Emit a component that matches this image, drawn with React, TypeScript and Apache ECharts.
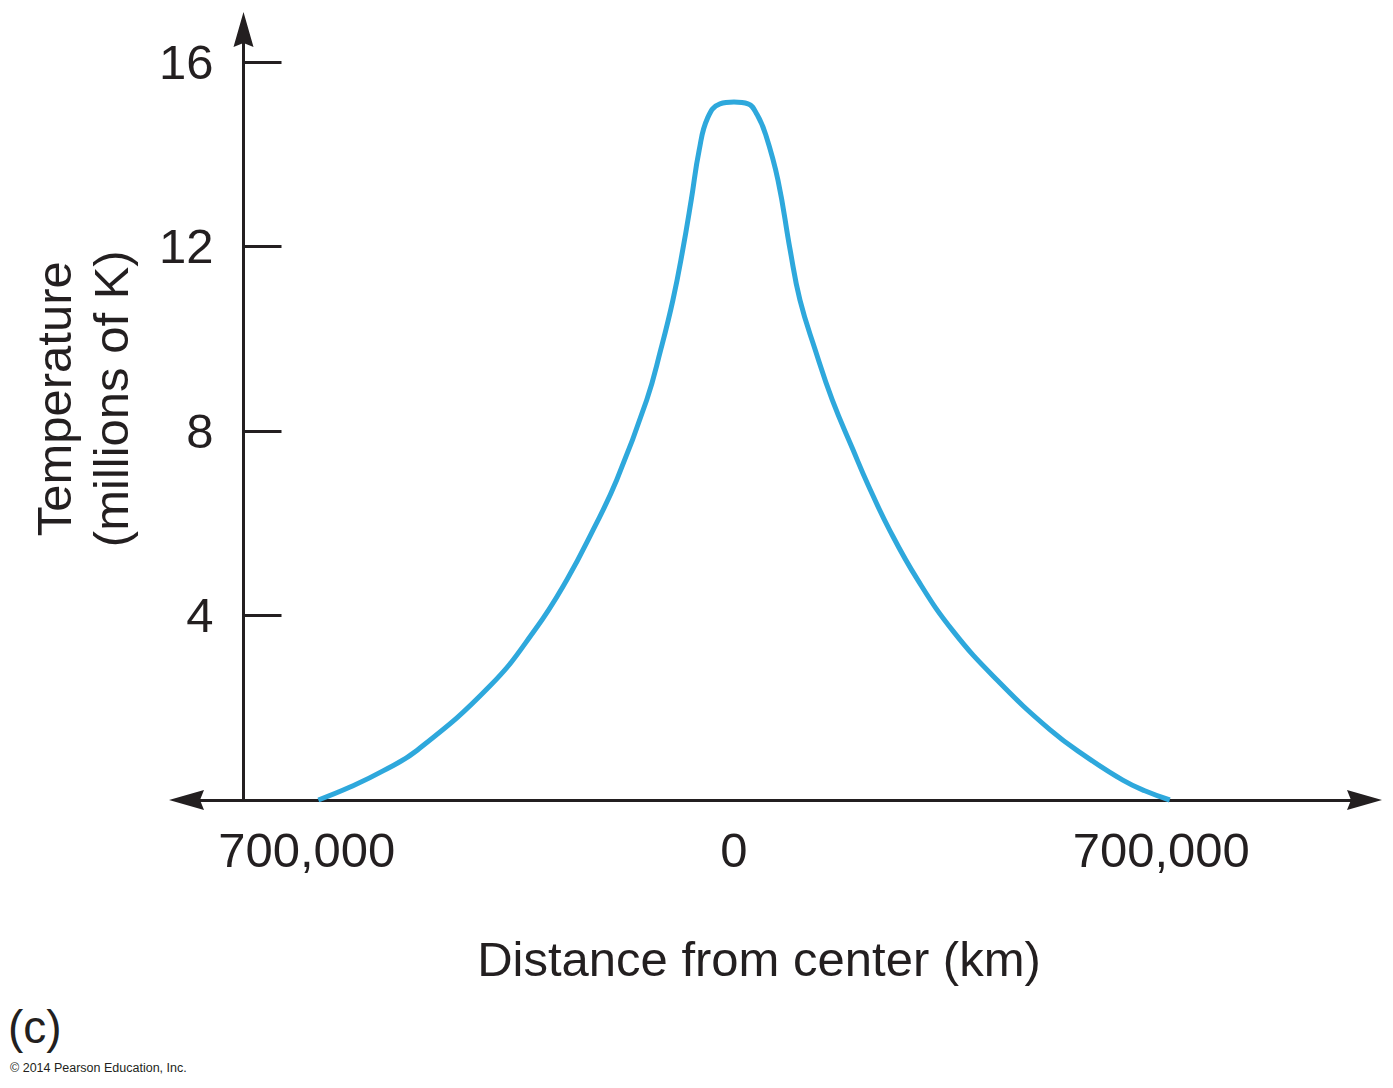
import React, { useEffect, useRef } from "react";
import * as echarts from "echarts";

// Distance from the centre of the Sun (km), negative = left side
const distanceKm: number[] = [
  -681000, -629000, -575000, -519000, -400000, -326000, -274000,
  -231000, -192000, -143000, -120000, -100000, -84000, -70000, -57000, -43000,
  -23000,
  0,
  23000, 38000, 52000, 72000, 92000, 108000, 133000, 161000, 195000, 219000,
  255000, 301000, 359000, 431000, 518000, 578000, 637000, 673000, 714000,
];
// Temperature (millions of K)
const temperatureMK: number[] = [
  0, 0.28, 0.63, 1.08, 2.47, 3.69, 4.77,
  5.85, 6.94, 8.67, 9.76, 10.84, 11.92, 13.01, 14.09, 14.79,
  15.09,
  15.13,
  15.09, 14.85, 14.42, 13.44, 11.92, 10.84, 9.76, 8.67, 7.59, 6.85,
  5.85, 4.77, 3.66, 2.6, 1.52, 0.93, 0.43, 0.2, 0,
];
const xTickValues: number[] = [-700000, 0, 700000];
const yTickValues: number[] = [4, 8, 12, 16];

const INK = "#231f20";
const BLUE = "#2ea8dc";
const FONT = "'Liberation Sans', Arial, Helvetica, sans-serif";
const ARROW = "path://M10,0L20,35L10,31L0,35Z";
const BIG = 49;

export default function App() {
  const ref = useRef<HTMLDivElement>(null);
  useEffect(() => {
    if (!ref.current) return;
    const chart = echarts.init(ref.current, null, { renderer: "svg" });
    const data = distanceKm.map((d, i) => [d, temperatureMK[i]]);
    chart.setOption({
      animation: false,
      backgroundColor: "#ffffff",
      textStyle: { fontFamily: FONT, color: INK },
      title: [
        {
          text: "(c)",
          left: 8,
          top: 1004,
          padding: 0,
          textStyle: { fontSize: 46, fontWeight: "normal", color: INK, fontFamily: FONT },
        },
        {
          text: "© 2014 Pearson Education, Inc.",
          left: 10,
          top: 1061,
          padding: 0,
          textStyle: { fontSize: 12.5, fontWeight: "normal", color: INK, fontFamily: FONT },
        },
      ],
      grid: { left: 186.5, right: 28.5, top: 29.5, bottom: 288, containLabel: false },
      xAxis: {
        type: "value",
        min: -897000,
        max: 1033000,
        name: "Distance from center (km)",
        nameLocation: "middle",
        nameGap: 134,
        nameTextStyle: { fontSize: BIG, color: INK, fontFamily: FONT, padding: [0, 33, 0, 0] },
        axisLine: {
          onZero: false,
          symbol: [ARROW, ARROW],
          symbolSize: [21, 35],
          lineStyle: { color: INK, width: 3 },
        },
        axisTick: { show: false },
        splitLine: { show: false },
        axisLabel: {
          customValues: xTickValues,
          margin: 25,
          fontSize: BIG,
          color: INK,
          fontFamily: FONT,
          formatter: (v: number) => Math.abs(v).toLocaleString("en-US"),
        },
      },
      yAxis: {
        type: "value",
        min: 0,
        max: 16.7,
        offset: -57,
        name: "Temperature\n(millions of K)",
        nameLocation: "middle",
        nameRotate: 90,
        nameGap: 104,
        nameTextStyle: {
          fontSize: BIG,
          lineHeight: 57,
          color: INK,
          fontFamily: FONT,
          padding: [0, 0, 0, 32],
        },
        axisLine: {
          show: true,
          onZero: false,
          symbol: ["none", ARROW],
          symbolSize: [21, 35],
          lineStyle: { color: INK, width: 3 },
        },
        axisTick: {
          show: true,
          inside: true,
          length: 38,
          customValues: yTickValues,
          lineStyle: { color: INK, width: 3 },
        },
        splitLine: { show: false },
        axisLabel: {
          customValues: yTickValues,
          margin: 30,
          fontSize: BIG,
          color: INK,
          fontFamily: FONT,
        },
      },
      series: [
        {
          type: "line",
          data,
          showSymbol: false,
          smooth: 0.45,
          lineStyle: { color: BLUE, width: 5 },
          itemStyle: { color: BLUE },
          clip: false,
        },
      ],
    });
    return () => chart.dispose();
  }, []);
  return (
    <div
      ref={ref}
      style={{ position: "fixed", left: 0, top: 0, width: 1393, height: 1088 }}
    />
  );
}
